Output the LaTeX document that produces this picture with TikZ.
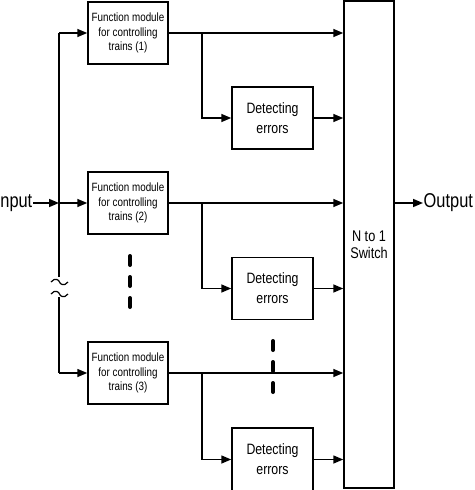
\documentclass[tikz,border=0pt]{standalone}
\usepackage{fontspec}
\setmainfont{Liberation Sans}[FakeStretch=0.82]
\usetikzlibrary{arrows.meta,calc}

\tikzset{
  fmbox/.style={draw,line width=1.5pt,minimum width=80pt,minimum height=62pt,
    inner sep=0pt,align=center,font=\fontsize{12}{14.8}\selectfont},
  detbox/.style={draw,line width=1.5pt,minimum width=81pt,minimum height=62pt,
    inner sep=0pt,align=center,font=\fontsize{15}{20}\selectfont},
  arr/.style={line width=1.5pt,-{Triangle[length=10pt,width=8pt]}},
  wire/.style={line width=1.5pt},
  dots/.style={line width=4pt,line cap=round,dash pattern=on 9pt off 12pt}
}

\begin{document}
\begin{tikzpicture}[x=1pt,y=-1pt]
    \useasboundingbox (0,0) rectangle (474,490);
    % Function modules
    \node[fmbox] (fm1) at (128,33) {Function module\\for controlling\\trains (1)};
    \node[fmbox] (fm2) at (128,203) {Function module\\for controlling\\trains (2)};
    \node[fmbox] (fm3) at (128,373) {Function module\\for controlling\\trains (3)};
    % Error detection
    \node[detbox] (de1) at (272.5,118) {Detecting\\errors};
    \node[detbox] (de2) at (272.5,288.5) {Detecting\\errors};
    \node[detbox,minimum height=63pt] (de3) at (272.5,459.5) {Detecting\\errors};
    % Switch
    \node[draw,line width=1.5pt,minimum width=50pt,minimum height=487pt,inner sep=0pt,
      align=center,font=\fontsize{15.5}{17.5}\selectfont] (sw) at (369,244.5) {N to 1\\Switch};
    % Input / output
    \node[anchor=east,inner sep=0.5pt,font=\fontsize{20}{22}\selectfont] (in) at (33,203) {Input};
    \node[anchor=west,inner sep=0.5pt,font=\fontsize{20}{22}\selectfont] (out) at (423,203) {Output};
    % Split lines
    \coordinate (s1) at (59,33);
    \coordinate (s2) at (59,203);
    \coordinate (s3) at (59,373);
    \coordinate (b1) at (59,277);
    \coordinate (b2) at (59,297);
    \draw[arr] (in.east) -- (s2);
    \draw[wire] (s1) -- (b1);
    \draw[wire] (b2) -- (s3);
    \foreach \i in {1,2,3}
      \draw[arr] (s\i) -- (fm\i.west);
    % Break marks
    \foreach \y in {282,294}
      \draw[line width=1.2pt] (51,\y) .. controls (55,\y-5) and (59,\y-2) .. (59.5,\y)
        .. controls (60,\y+2) and (64,\y+5) .. (68,\y);
    % Module outputs
    \foreach \i in {1,2,3} {
      \draw[arr] (fm\i.east) -- (sw.west |- fm\i.east);
      \coordinate (t\i) at ($(fm\i.east)+(33,0)$);
      \draw[arr] (t\i) |- (de\i.west);
      \draw[arr] (de\i.east) -- (sw.west |- de\i.east);
    }
    \draw[arr] (sw.east |- out.west) -- (out.west);
    % Continuation dots
    \draw[dots] (130,256) -- (130,312);
    \draw[dots] (273,341) -- (273,397);
\end{tikzpicture}
\end{document}
